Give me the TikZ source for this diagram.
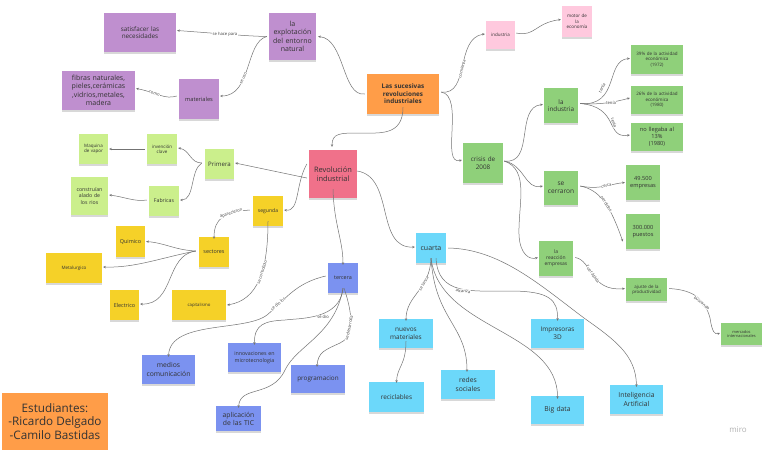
\documentclass[tikz,border=0pt]{standalone}
\usepackage{fontspec}
\setmainfont{Open Sans}
\usetikzlibrary{arrows.meta,shadows}
\definecolor{cPurple}{HTML}{BF8FCF}
\definecolor{cOrange}{HTML}{FF9D48}
\definecolor{cPink}{HTML}{FFC9DE}
\definecolor{cGreen}{HTML}{8FD07A}
\definecolor{cLime}{HTML}{CBEF8C}
\definecolor{cYellow}{HTML}{F5D128}
\definecolor{cBlue}{HTML}{7B92F0}
\definecolor{cCyan}{HTML}{6CD8FA}
\definecolor{cRed}{HTML}{F0718A}
\definecolor{cInk}{HTML}{333333}
\tikzset{
  sticky/.style={inner sep=0pt,align=center,text=cInk,
    drop shadow={shadow xshift=0pt,shadow yshift=-1.6pt,xscale=.92,opacity=.3,fill=black!50}},
  conn/.style={draw=black!55,line width=.5pt,-{Stealth[length=2.6pt,width=2.4pt]}},
  lab/.style={fill=white,inner sep=.3pt,font=\fontsize{4.2}{4.6}\selectfont,text=black!75},
}
\newcommand{\sticky}[8]{%
  \pgfmathsetmacro{\cxv}{(#2+#4)/2}\pgfmathsetmacro{\cyv}{(#3+#5)/2}%
  \pgfmathsetmacro{\wv}{#4-#2}\pgfmathsetmacro{\hv}{#5-#3}%
  \pgfmathsetmacro{\fsv}{#7*1.13}\pgfmathsetmacro{\lsv}{#7*1.13*1.2}%
  \node[sticky,fill=#6,minimum width=\wv pt,minimum height=\hv pt,text width=\wv pt-1pt,
        font=\fontsize{\fsv}{\lsv}\selectfont] (#1) at (\cxv,\cyv) {#8};}
\begin{document}
\begin{tikzpicture}[x=1pt,y=-1pt]
\useasboundingbox (0,0) rectangle (768,451);
\fill[white] (0,0) rectangle (768,451);
% purple
\sticky{satisfacer}{104}{13}{176}{52}{cPurple}{5.6}{satisfacer las\\necesidades}
\sticky{explotacion}{269}{13}{316}{60}{cPurple}{6.2}{la\\explotación\\del entorno\\natural}
\sticky{materiales}{179}{79}{219}{119}{cPurple}{5}{materiales}
\sticky{fibras}{62}{71}{135}{110}{cPurple}{6.2}{fibras naturales,\\pieles,cerámicas\\,vidrios,metales,\\madera}
% top
\sticky{sucesivas}{367}{74}{439}{114}{cOrange}{5.6}{\bfseries Las sucesivas\\\bfseries revoluciones\\\bfseries industriales}
\sticky{industria}{486}{21}{515}{49}{cPink}{4}{industria}
\sticky{motor}{562}{6}{592}{37}{cPink}{4}{motor de\\la\\economía}
% green
\sticky{crisis}{463}{143}{503}{183}{cGreen}{5.6}{crisis de\\2008}
\sticky{laindustria}{544}{88}{578}{123}{cGreen}{5.6}{la\\industria}
\sticky{cerraron}{544}{171}{578}{205}{cGreen}{5.8}{se\\cerraron}
\sticky{reaccion}{539}{241}{573}{276}{cGreen}{4.4}{la\\reacción\\empresas}
\sticky{pa}{631}{45}{683}{74}{cGreen}{4}{39\% de la actividad\\económica\\(1972)}
\sticky{pb}{631}{86}{683}{114}{cGreen}{4}{26\% de la actividad\\económica\\(1980)}
\sticky{pc}{631}{123}{683}{151}{cGreen}{5}{no llegaba al\\13\%\\(1980)}
\sticky{empresas}{626}{165}{660}{200}{cGreen}{5}{49.500\\empresas}
\sticky{puestos}{626}{214}{660}{249}{cGreen}{5}{300.000\\puestos}
\sticky{ajuste}{626}{278}{667}{301}{cGreen}{3.9}{ajuste de la\\productividad}
\sticky{mercados}{721}{323}{762}{345}{cGreen}{3.5}{mercados\\internacionales}
% lime / red
\sticky{revolucion}{309}{150}{357}{198}{cRed}{6.6}{Revolución\\industrial}
\sticky{primera}{205}{149}{234}{179}{cLime}{5.4}{Primera}
\sticky{invencion}{147}{134}{177}{164}{cLime}{4}{invención\\clave}
\sticky{maquina}{79}{134}{108}{164}{cLime}{4}{Maquina\\de vapor}
\sticky{fabricas}{149}{186}{179}{216}{cLime}{4.6}{Fabricas}
\sticky{construian}{71}{177}{108}{215}{cLime}{4.6}{construían\\alado de\\los rios}
% yellow
\sticky{segunda}{253}{196}{283}{226}{cYellow}{4.5}{segunda}
\sticky{sectores}{199}{237}{229}{267}{cYellow}{4.8}{sectores}
\sticky{quimico}{116}{226}{145}{257}{cYellow}{4.8}{Quimico}
\sticky{metal}{46}{253}{102}{283}{cYellow}{4}{Metalurgico}
\sticky{electrico}{110}{290}{139}{320}{cYellow}{4.8}{Electrico}
\sticky{capitalismo}{172}{290}{226}{320}{cYellow}{3.8}{capitalismo}
% blue
\sticky{tercera}{328}{263}{358}{293}{cBlue}{4.8}{tercera}
\sticky{medios}{142}{355}{195}{384}{cBlue}{6}{medios\\comunicación}
\sticky{innovaciones}{228}{343}{281}{372}{cBlue}{4.7}{innovaciones en\\microtecnologia}
\sticky{programacion}{291}{365}{345}{393}{cBlue}{5.6}{programacion}
\sticky{aplicacion}{216}{406}{261}{431}{cBlue}{6}{aplicación\\de las TIC}
% cyan
\sticky{cuarta}{416}{233}{446}{263}{cCyan}{6.2}{cuarta}
\sticky{nuevos}{379}{319}{433}{348}{cCyan}{5.7}{nuevos\\materiales}
\sticky{impresoras}{531}{319}{584}{348}{cCyan}{5.7}{Impresoras\\3D}
\sticky{reciclables}{369}{382}{424}{412}{cCyan}{5.7}{reciclables}
\sticky{redes}{441}{370}{495}{399}{cCyan}{6}{redes\\sociales}
\sticky{bigdata}{531}{396}{584}{424}{cCyan}{6}{Big data}
\sticky{ia}{610}{385}{663}{414}{cCyan}{6}{Inteligencia\\Artificial}
% students
\node[fill=cOrange,inner sep=0pt,minimum width=106pt,minimum height=57pt,align=center,text=cInk,
      font=\fontsize{11.7}{13.4}\selectfont] (estudiantes) at (55,421.5) {Estudiantes:\\-Ricardo Delgado\\-Camilo Bastidas};
\node[text=black!30,font=\fontsize{8}{9}\selectfont] (miro) at (738,430) {miro};
% connectors: top-left
\draw[conn] ([xshift=-2pt]sucesivas.west) .. controls (342,97) and (345,39) .. ([xshift=2pt]explotacion.east);
\draw[conn] ([xshift=-2pt]explotacion.west) .. controls (245,36) and (225,34) .. ([xshift=1pt,yshift=2pt]satisfacer.east) node[lab,pos=.58] {se hace para};
\draw[conn] ([xshift=-2pt]explotacion.west) .. controls (245,42) and (252,96) .. ([xshift=1pt,yshift=3pt]materiales.east) node[lab,pos=.62,sloped] {se uso};
\draw[conn] ([xshift=-2pt,yshift=3pt]materiales.west) .. controls (165,100) and (155,92) .. ([xshift=1pt,yshift=2pt]fibras.east) node[lab,pos=.62,sloped] {como};
\draw[conn] ([yshift=7pt]sucesivas.south) .. controls (403,136) and (380,133) .. (360,133) .. controls (340,133) and (332,133) .. ([yshift=3pt,xshift=-1pt]revolucion.north);
% primera
\draw[conn] ([xshift=-2pt,yshift=-4pt]revolucion.west) -- ([xshift=1pt,yshift=1pt]primera.east);
\draw[conn] ([xshift=-3pt,yshift=1pt]primera.west) .. controls (190,163) and (190,150) .. ([xshift=1pt,yshift=1pt]invencion.east);
\draw[conn] ([xshift=-3pt,yshift=1pt]primera.west) .. controls (190,170) and (195,200) .. ([xshift=1pt,yshift=1pt]fabricas.east);
\draw[conn] ([xshift=-2pt]invencion.west) -- ([xshift=1pt]maquina.east);
\draw[conn] ([xshift=-2pt,yshift=1pt]fabricas.west) .. controls (135,202) and (125,197) .. ([xshift=1pt,yshift=1pt]construian.east);
% segunda
\draw[conn] ([xshift=-2pt,yshift=10pt]revolucion.west) .. controls (295,185) and (300,212) .. ([xshift=1pt,yshift=1pt]segunda.east);
\draw[conn] ([xshift=-3pt,yshift=1pt]segunda.west) .. controls (225,212) and (214,218) .. ([yshift=-2pt]sectores.north) node[lab,pos=.3,sloped] {aparecieron};
\draw[conn] ([xshift=-3pt,yshift=1pt]sectores.west) .. controls (175,250) and (165,243) .. ([xshift=1pt]quimico.east);
\draw[conn] ([xshift=-3pt,yshift=1pt]sectores.west) .. controls (160,258) and (135,268) .. ([xshift=1pt,yshift=1pt]metal.east);
\draw[conn] ([xshift=-3pt,yshift=1pt]sectores.west) .. controls (165,255) and (175,305) .. ([xshift=1pt,yshift=1pt]electrico.east);
\draw[conn] ([yshift=5pt]segunda.south) .. controls (268,270) and (258,300) .. ([xshift=1pt]capitalismo.east) node[lab,pos=.42,sloped] {se consolido};
% tercera
\draw[conn] ([yshift=9pt]revolucion.south) .. controls (334,225) and (343,240) .. ([yshift=-2pt]tercera.north);
\draw[conn] ([xshift=-2pt,yshift=2pt]tercera.west) .. controls (295,283) and (285,300) .. (267,315) .. controls (245,332) and (170,320) .. ([yshift=-2pt]medios.north);
\draw[conn] ([yshift=5pt]tercera.south) .. controls (340,320) and (300,318) .. (285,320) .. controls (265,321) and (254,324) .. ([yshift=-2pt]innovaciones.north);
\draw[conn] ([yshift=5pt,xshift=1pt]tercera.south) .. controls (355,320) and (352,338) .. (340,343) .. controls (325,350) and (318,352) .. ([yshift=-2pt,xshift=-1pt]programacion.north);
\draw[conn] ([yshift=5pt]tercera.south) .. controls (335,335) and (297,345) .. (285,370) .. controls (272,398) and (240,385) .. ([yshift=-2pt]aplicacion.north);
\node[lab,rotate=42] (lseDioLos) at (278,304) {se dio los};
\node[lab,rotate=3] (lseDio) at (323,317) {se dio};
\node[lab,rotate=78] (lseDes) at (349,328) {se desarrolla};
% cuarta
\draw[conn] ([yshift=3pt]revolucion.east) .. controls (395,177) and (375,249) .. ([xshift=-1pt,yshift=1pt]cuarta.west);
\draw[conn] ([yshift=5pt]cuarta.south) .. controls (430,290) and (406,295) .. ([yshift=-2pt]nuevos.north) node[lab,pos=.35,sloped] {se lanza};
\draw[conn] ([yshift=5pt]cuarta.south) .. controls (435,320) and (467,325) .. ([yshift=-2pt,xshift=-1pt]redes.north);
\draw[conn] ([yshift=5pt]cuarta.south) .. controls (440,330) and (558,330) .. ([yshift=-3pt]bigdata.north);
\draw[conn] ([yshift=5pt,xshift=5pt]cuarta.south) .. controls (438,295) and (470,291) .. (510,291) .. controls (550,291) and (558,300) .. ([yshift=-2pt]impresoras.north);
\node[lab,rotate=-5] (lalc) at (463,291) {alcanza};
\draw[conn] ([xshift=2pt]cuarta.east) .. controls (500,249) and (540,285) .. (584,318) .. controls (615,340) and (636,355) .. ([yshift=-2pt]ia.north);
\draw[conn] ([yshift=7pt]nuevos.south) .. controls (406,365) and (397,367) .. ([yshift=-1pt]reciclables.north);
% right
\draw[conn] ([xshift=2pt,yshift=2pt]sucesivas.east) .. controls (470,96) and (455,38) .. ([xshift=-1pt,yshift=1pt]industria.west) node[lab,pos=.47,sloped] {comienza};
\draw[conn] ([xshift=2pt,yshift=2pt]sucesivas.east) .. controls (465,96) and (440,166) .. ([xshift=-1pt,yshift=3pt]crisis.west);
\draw[conn] ([xshift=1pt,yshift=2pt]industria.east) .. controls (535,37) and (535,23) .. ([xshift=-1pt,yshift=2pt]motor.west);
\draw[conn] ([xshift=1pt,yshift=2pt]crisis.east) .. controls (535,165) and (515,107) .. ([xshift=-1pt,yshift=1pt]laindustria.west);
\draw[conn] ([xshift=1pt,yshift=2pt]crisis.east) .. controls (525,165) and (525,190) .. ([xshift=-1pt,yshift=2pt]cerraron.west);
\draw[conn] ([xshift=1pt,yshift=2pt]crisis.east) .. controls (530,170) and (518,205) .. (519,235) .. controls (520,255) and (530,260) .. ([xshift=-1pt,yshift=1pt]reaccion.west);
\draw[conn] ([xshift=2pt,yshift=2pt]laindustria.east) .. controls (620,107) and (605,60) .. ([xshift=-1pt,yshift=1pt]pa.west);
\draw[conn] ([xshift=2pt,yshift=2pt]laindustria.east) .. controls (600,105) and (615,102) .. ([xshift=-1pt,yshift=2pt]pb.west);
\draw[conn] ([xshift=2pt,yshift=2pt]laindustria.east) .. controls (620,107) and (605,139) .. ([xshift=-1pt,yshift=2pt]pc.west);
\node[lab,rotate=62] (lta) at (602,88) {tenía};
\node[lab] (ltb) at (611,103) {tenía};
\node[lab,rotate=-72] (ltc) at (614,123) {tenía};
\draw[conn] ([xshift=2pt,yshift=2pt]cerraron.east) .. controls (600,190) and (610,184) .. ([xshift=-1pt]empresas.west) node[lab,pos=.55,sloped] {cerca};
\draw[conn] ([xshift=2pt,yshift=2pt]cerraron.east) .. controls (600,190) and (610,205) .. ([xshift=-3pt,yshift=-10pt]puestos.west) node[lab,pos=.55,sloped] {perdidos};
\draw[conn] ([xshift=2pt,yshift=1pt]reaccion.east) .. controls (592,260) and (590,292) .. ([xshift=-1pt,yshift=1pt]ajuste.west) node[lab,pos=.48,sloped] {fue rápida};
\draw[conn] ([xshift=2pt,yshift=1pt]ajuste.east) .. controls (695,290) and (705,300) .. (710,318) .. controls (712,332) and (715,335) .. ([xshift=-1pt,yshift=1pt]mercados.west);
\node[lab,rotate=-40] (lbus) at (702,303) {buscando};
\end{tikzpicture}
\end{document}
